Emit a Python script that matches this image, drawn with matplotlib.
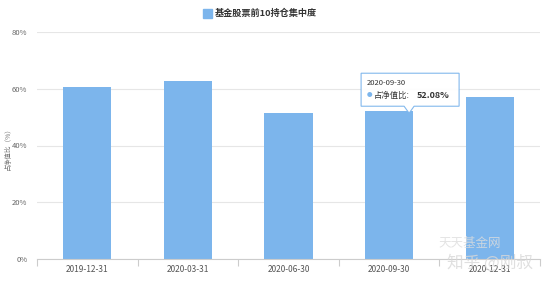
import numpy as np
import matplotlib
matplotlib.use('Agg')
import matplotlib.pyplot as plt
from matplotlib.patches import Polygon
from matplotlib.transforms import offset_copy

plt.rcParams['font.family'] = ['Noto Sans CJK SC', 'DejaVu Sans']

# data
dates = ['2019-12-31', '2020-03-31', '2020-06-30', '2020-09-30', '2020-12-31']
concentration = [60.7, 62.8, 51.6, 52.08, 57.2]
yticks = [0, 20, 40, 60, 80]
series_name = '基金股票前10持仓集中度'
ylabel = '占净值比（%）'
tip_idx = 3

bar_color = '#7cb5ec'
W, H = 554, 285
fig = plt.figure(figsize=(W / 100, H / 100), dpi=100)
ax = fig.add_axes([37 / W, (H - 259) / H, (540 - 37) / W, (259 - 32) / H])

x = np.arange(len(dates))
ax.bar(x, concentration, width=0.48, color=bar_color, zorder=2)
ax.set_xlim(-0.5, len(dates) - 0.5)
ax.set_ylim(0, 80)

ax.set_yticks(yticks)
ax.set_yticklabels([f'{v}%' for v in yticks])
ax.yaxis.grid(True, color='#e6e6e6', lw=0.8, zorder=0)
ax.tick_params(axis='y', length=0, pad=7, labelsize=5.5, labelcolor='#666666')

ax.set_xticks(x)
ax.set_xticklabels(dates)
ax.set_xticks(np.arange(len(dates) + 1) - 0.5, minor=True)
ax.tick_params(axis='x', which='major', length=0, pad=4, labelsize=6, labelcolor='#555555')
ax.tick_params(axis='x', which='minor', length=5, color='#cccccc', width=0.8)

for s in ['top', 'right', 'left']:
    ax.spines[s].set_visible(False)
ax.spines['bottom'].set_color('#cccccc')
ax.spines['bottom'].set_linewidth(0.8)

fig.text(8 / W, 1 - 147 / H, ylabel, rotation=90, ha='center', va='center',
         fontsize=4.8, color='#777777')

# legend at top
fig.patches.append(plt.Rectangle((203 / W, 1 - 18 / H), 9 / W, 9 / H,
                                 transform=fig.transFigure, color=bar_color))
fig.text(215 / W, 1 - 13 / H, series_name, ha='left', va='center',
         fontsize=6.6, fontweight='bold', color='#333333')

# tooltip on the 2020-09-30 bar
def off(dx, dy):
    return offset_copy(ax.transData, fig=fig, x=dx, y=dy, units='dots')

tx, ty = x[tip_idx], concentration[tip_idx]
px, py = ax.transData.transform((tx, ty))
pts = [(px - 28, py + 5), (px + 15, py + 5), (px + 20, py - 2), (px + 25, py + 5),
       (px + 70, py + 5), (px + 70, py + 38), (px - 28, py + 38)]
tip = Polygon(ax.transData.inverted().transform(pts), closed=True,
              fc='white', ec=bar_color, lw=0.8, alpha=0.95, zorder=5, clip_on=False)
ax.add_patch(tip)
ax.text(tx, ty, dates[tip_idx], transform=off(-22, 28), fontsize=5.5,
        color='#333333', va='center', ha='left', zorder=6)
ax.text(tx, ty, '●', transform=off(-22, 16), fontsize=4, color=bar_color,
        va='center', ha='left', zorder=6)
ax.text(tx, ty, '占净值比:', transform=off(-15, 16), fontsize=6,
        color='#333333', va='center', ha='left', zorder=6)
ax.text(tx, ty, f'{concentration[tip_idx]:.2f}%', transform=off(28, 16), fontsize=6.5,
        fontweight='bold', color='#333333', va='center', ha='left', zorder=6)

# watermarks
fig.text(470 / W, 1 - 243 / H, '天天基金网', ha='center', va='center',
         fontsize=9, color='#dddddd', alpha=0.8)
fig.text(490 / W, 1 - 263 / H, '知乎 @刚叔', ha='center', va='center',
         fontsize=12, color='#d8d8d8', alpha=0.8)

fig.savefig('out.png', dpi=100)
